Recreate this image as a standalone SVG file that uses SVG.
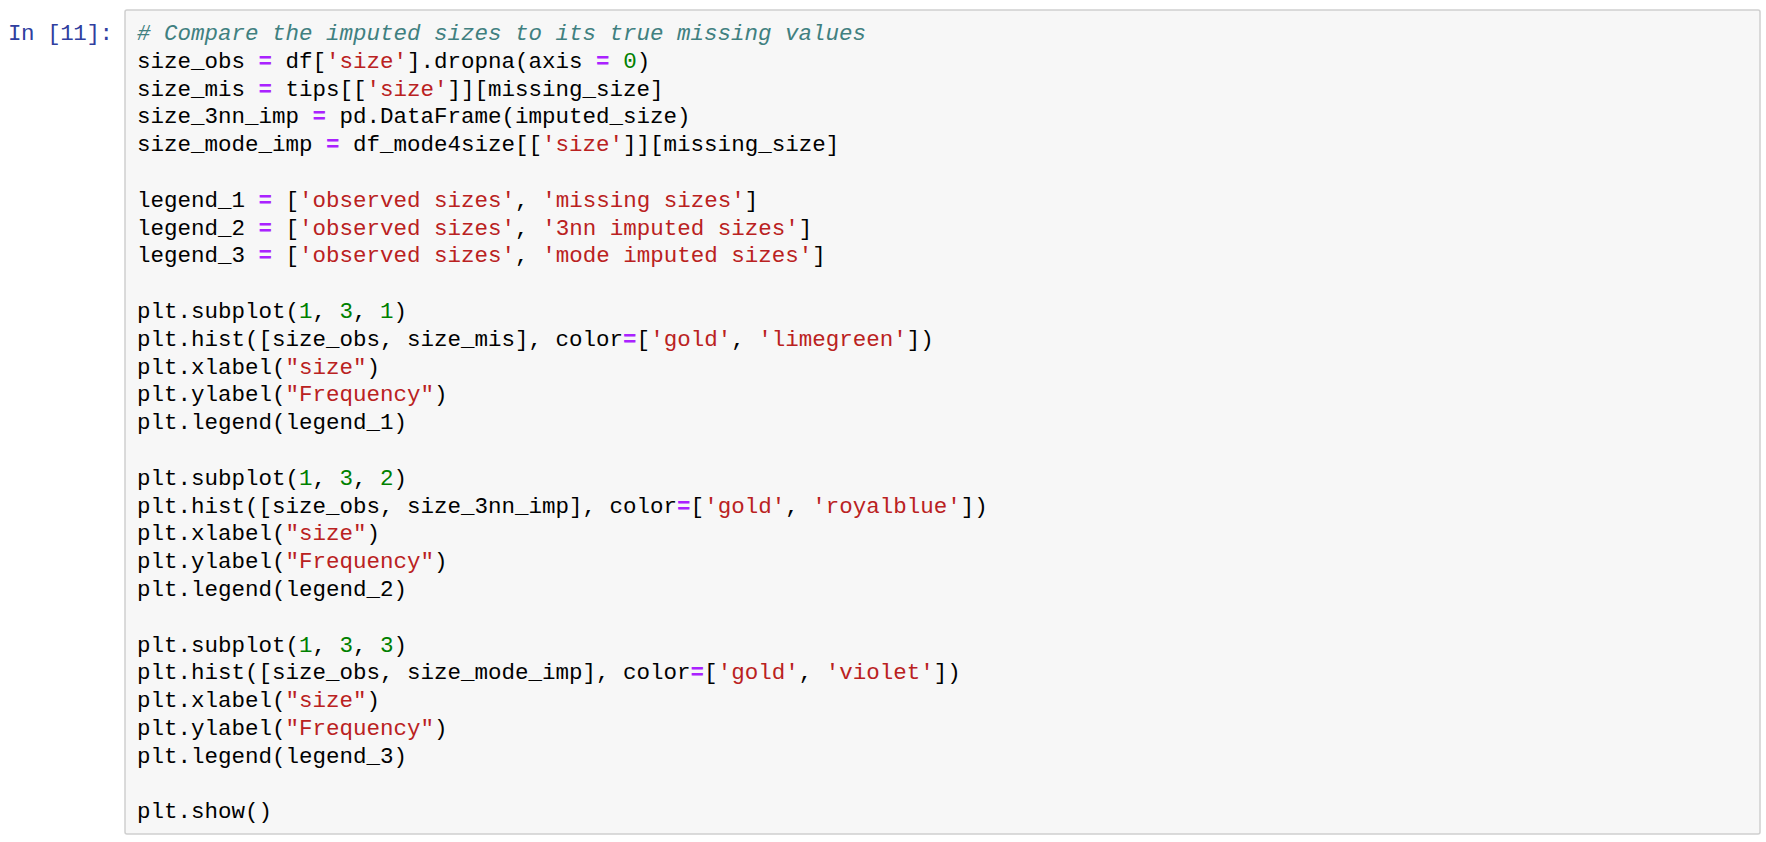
<svg xmlns="http://www.w3.org/2000/svg" width="1766" height="842" viewBox="0 0 1766 842">
<style>
text{font-family:"Liberation Mono","Courier New",monospace;font-size:22.5px;fill:#000;white-space:pre}
.c{fill:#408080;font-style:italic}.s{fill:#BA2121}.o{fill:#AA22FF;font-weight:bold}.n{fill:#008000}
.p{fill:#303F9F}
</style>
<rect width="1766" height="842" fill="#fff"/>
<g id="prompt"><text class="p" x="8" y="40" textLength="105">In [11]:</text></g>
<g id="cell">
<rect x="125" y="10" width="1635" height="824" rx="2" fill="#f7f7f7" stroke="#cfcfcf" stroke-width="1.5"/>
<g xml:space="preserve">
<text x="137" y="40" class="c"># Compare the imputed sizes to its true missing values</text>
<text x="137" y="67.8">size_obs <tspan class="o">=</tspan> df[<tspan class="s">'size'</tspan>].dropna(axis <tspan class="o">=</tspan> <tspan class="n">0</tspan>)</text>
<text x="137" y="95.6">size_mis <tspan class="o">=</tspan> tips[[<tspan class="s">'size'</tspan>]][missing_size]</text>
<text x="137" y="123.4">size_3nn_imp <tspan class="o">=</tspan> pd.DataFrame(imputed_size)</text>
<text x="137" y="151.2">size_mode_imp <tspan class="o">=</tspan> df_mode4size[[<tspan class="s">'size'</tspan>]][missing_size]</text>
<text x="137" y="206.8">legend_1 <tspan class="o">=</tspan> [<tspan class="s">'observed sizes'</tspan>, <tspan class="s">'missing sizes'</tspan>]</text>
<text x="137" y="234.6">legend_2 <tspan class="o">=</tspan> [<tspan class="s">'observed sizes'</tspan>, <tspan class="s">'3nn imputed sizes'</tspan>]</text>
<text x="137" y="262.4">legend_3 <tspan class="o">=</tspan> [<tspan class="s">'observed sizes'</tspan>, <tspan class="s">'mode imputed sizes'</tspan>]</text>
<text x="137" y="318">plt.subplot(<tspan class="n">1</tspan>, <tspan class="n">3</tspan>, <tspan class="n">1</tspan>)</text>
<text x="137" y="345.8">plt.hist([size_obs, size_mis], color<tspan class="o">=</tspan>[<tspan class="s">'gold'</tspan>, <tspan class="s">'limegreen'</tspan>])</text>
<text x="137" y="373.6">plt.xlabel(<tspan class="s">"size"</tspan>)</text>
<text x="137" y="401.4">plt.ylabel(<tspan class="s">"Frequency"</tspan>)</text>
<text x="137" y="429.2">plt.legend(legend_1)</text>
<text x="137" y="484.8">plt.subplot(<tspan class="n">1</tspan>, <tspan class="n">3</tspan>, <tspan class="n">2</tspan>)</text>
<text x="137" y="512.6">plt.hist([size_obs, size_3nn_imp], color<tspan class="o">=</tspan>[<tspan class="s">'gold'</tspan>, <tspan class="s">'royalblue'</tspan>])</text>
<text x="137" y="540.4">plt.xlabel(<tspan class="s">"size"</tspan>)</text>
<text x="137" y="568.2">plt.ylabel(<tspan class="s">"Frequency"</tspan>)</text>
<text x="137" y="596">plt.legend(legend_2)</text>
<text x="137" y="651.6">plt.subplot(<tspan class="n">1</tspan>, <tspan class="n">3</tspan>, <tspan class="n">3</tspan>)</text>
<text x="137" y="679.4">plt.hist([size_obs, size_mode_imp], color<tspan class="o">=</tspan>[<tspan class="s">'gold'</tspan>, <tspan class="s">'violet'</tspan>])</text>
<text x="137" y="707.2">plt.xlabel(<tspan class="s">"size"</tspan>)</text>
<text x="137" y="735">plt.ylabel(<tspan class="s">"Frequency"</tspan>)</text>
<text x="137" y="762.8">plt.legend(legend_3)</text>
<text x="137" y="818.4">plt.show()</text>
</g>
</g>
</svg>
